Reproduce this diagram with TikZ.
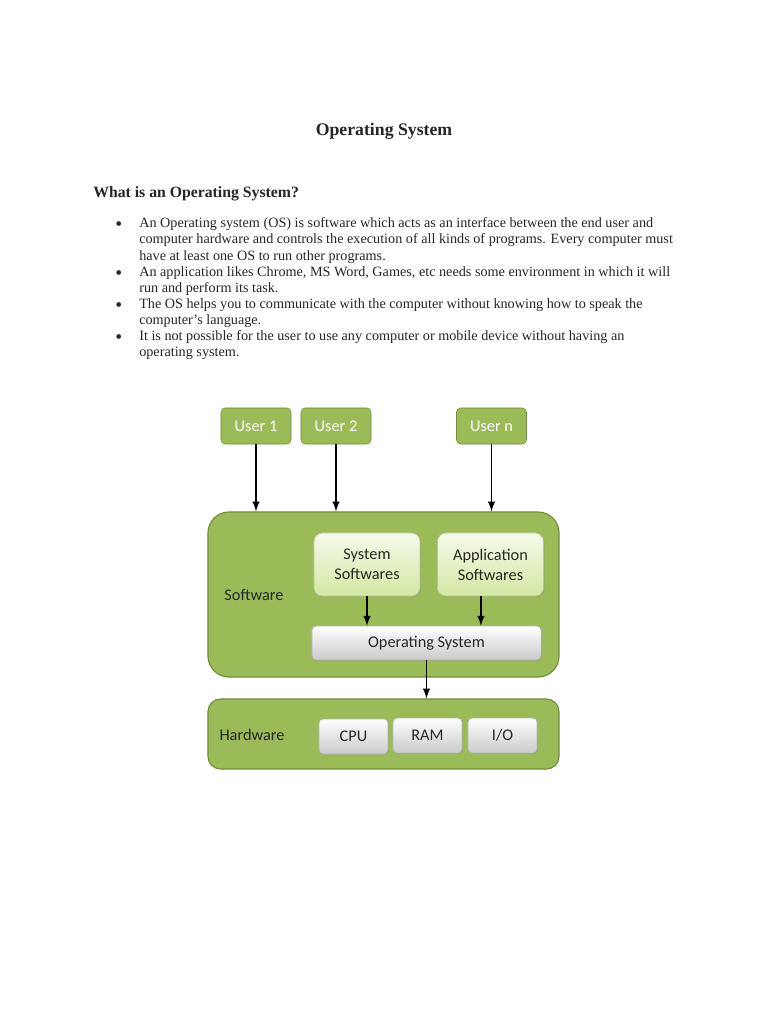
\documentclass[tikz,border=0pt]{standalone}
\usepackage{fontspec}
\setmainfont{Liberation Serif}
\newfontfamily\diagfont{Carlito}
\usepackage{tikz}
\usetikzlibrary{
  positioning,%
  % soft shadows under the boxes
  shadows,%
  arrows
}
\definecolor{osgreen}{HTML}{9BBB59}
\definecolor{osgreenline}{HTML}{718C3E}
\definecolor{oslight}{HTML}{F5FAEA}
\definecolor{oslightb}{HTML}{D3E8A2}
\definecolor{osgray}{HTML}{CACACA}
\definecolor{ostext}{HTML}{262626}
\tikzset{>=latex}
\tikzset{
  bodytext/.style={anchor=base west, inner sep=0pt, text=ostext,
    font=\fontsize{10.1}{12}\selectfont},
  dotmark/.style={anchor=base west, inner sep=0pt, text=ostext,
    font=\fontsize{14}{14}\selectfont},
  userbox/.style={draw=osgreenline, fill=osgreen, rounded corners=3pt,
    minimum width=1.75cm, minimum height=0.9cm, text=white,
    font=\diagfont\fontsize{11.6}{13}\selectfont},
  layerbox/.style={draw=osgreenline, line width=0.8pt, fill=osgreen,
    minimum width=8.775cm},
  softbox/.style={draw=osgreenline!50, top color=oslight, bottom color=oslightb,
    rounded corners=6pt, minimum width=2.65cm, minimum height=1.575cm,
    align=center, text=ostext, font=\diagfont\fontsize{11.6}{14.2}\selectfont,
    drop shadow={opacity=0.25, shadow xshift=0.8pt, shadow yshift=-0.8pt}},
  graybox/.style={draw=gray!60, top color=white, bottom color=osgray,
    rounded corners=3pt, text=ostext, font=\diagfont\fontsize{11.6}{13}\selectfont,
    drop shadow={opacity=0.25, shadow xshift=0.8pt, shadow yshift=-0.8pt}},
  layerlabel/.style={text=ostext, font=\diagfont\fontsize{11.6}{13}\selectfont},
  flow/.style={->, line width=1.4pt, black}
}

\begin{document}
\begin{tikzpicture}[x=0.025cm, y=-0.025cm]
  \useasboundingbox[fill=white] (0,0) rectangle (768,1024);

  % text part of the page
  \node[anchor=base, inner sep=0pt, text=ostext] (title) at (384,136)
    {\fontsize{12.6}{15}\selectfont\bfseries Operating System};
  \node[anchor=base west, inner sep=0pt, text=ostext] (quest) at (93,198)
    {\fontsize{11.2}{13}\selectfont\bfseries What is an Operating System?};

  \node[dotmark] (d1) at (115,231) {\textbullet};
  \node[bodytext] (l1) at (139,228) {An Operating system (OS) is software which acts as an interface between the end user and};
  \node[bodytext] (l2) at (139,244) {computer hardware and controls the execution of all kinds of programs. Every computer must};
  \node[bodytext] (l3) at (139,260) {have at least one OS to run other programs.};
  \node[dotmark] (d2) at (115,279) {\textbullet};
  \node[bodytext] (l4) at (139,276) {An application likes Chrome, MS Word, Games, etc needs some environment in which it will};
  \node[bodytext] (l5) at (139,292) {run and perform its task.};
  \node[dotmark] (d3) at (115,311) {\textbullet};
  \node[bodytext] (l6) at (139,308) {The OS helps you to communicate with the computer without knowing how to speak the};
  \node[bodytext] (l7) at (139,324) {computer's language.};
  \node[dotmark] (d4) at (115,343) {\textbullet};
  \node[bodytext] (l8) at (139,340) {It is not possible for the user to use any computer or mobile device without having an};
  \node[bodytext] (l9) at (139,356) {operating system.};

  % layers
  \node[layerbox, rounded corners=15pt, minimum height=4.125cm] (soft) at (383.5,594.5) {};
  \node[layerbox, rounded corners=9pt, minimum height=1.75cm] (hard) at (383.5,734) {};
  \node[layerlabel] (softlbl) at (254,595) {Software};
  \node[layerlabel] (hardlbl) at (252,735) {Hardware};

  % users
  \node[userbox] (user1) at (256,426) {User 1};
  \node[userbox] (user2) at (336,426) {User 2};
  \node[userbox] (usern) at (491.5,426) {User n};

  % software boxes
  \node[softbox] (syssw) at (367,564.5) {System\\Softwares};
  \node[softbox] (appsw) at (490.5,564.5) {Application\\Softwares};
  \node[graybox, minimum width=5.725cm, minimum height=0.85cm] (os) at (426.5,643) {Operating System};

  % hardware parts
  \node[graybox, minimum width=1.725cm, minimum height=0.875cm] (cpu) at (353.5,736.5) {CPU};
  \node[graybox, minimum width=1.725cm, minimum height=0.875cm] (ram) at (427.5,735.5) {RAM};
  \node[graybox, minimum width=1.725cm, minimum height=0.875cm] (io) at (502.5,735.5) {I/O};

  % arrows
  \draw[flow] (user1.south) -- (user1.south |- soft.north);
  \draw[flow] (user2.south) -- (user2.south |- soft.north);
  \draw[flow] (usern.south) -- (usern.south |- soft.north);
  \draw[flow] (syssw.south) -- (syssw.south |- os.north);
  \draw[flow] ([xshift=-0.24cm]appsw.south) -- ([xshift=-0.24cm]appsw.south |- os.north);
  \draw[flow] (os.south) -- (os.south |- hard.north);
\end{tikzpicture}
\end{document}
